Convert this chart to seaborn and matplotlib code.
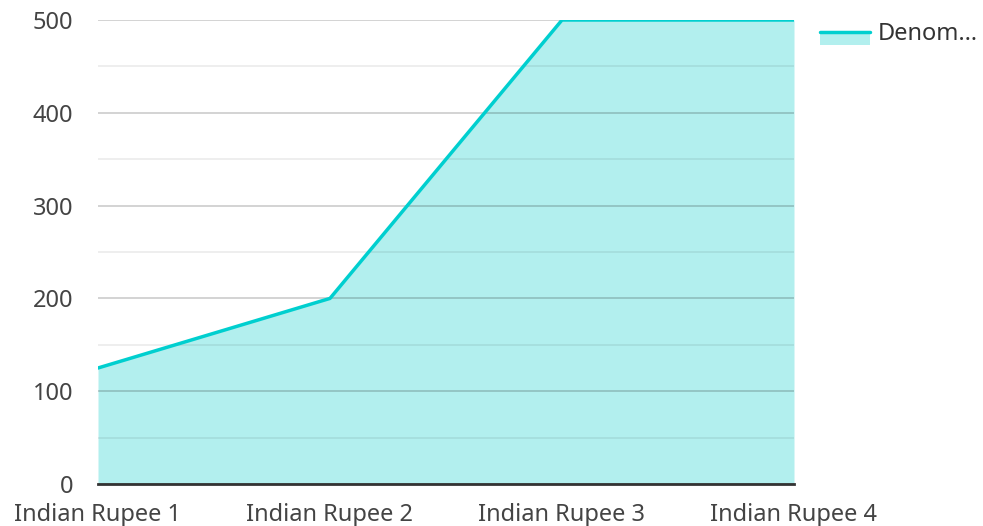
import numpy as np
import pandas as pd
import matplotlib
matplotlib.use("Agg")
import matplotlib.pyplot as plt
import seaborn as sns
from matplotlib.patches import Rectangle
from matplotlib.lines import Line2D
from matplotlib.ticker import MultipleLocator

categories = ["Indian Rupee 1", "Indian Rupee 2", "Indian Rupee 3", "Indian Rupee 4"]
values = [125, 200, 500, 500]
series_name = "Denom…"

sns.set_style("white")
plt.rcParams['font.family'] = ['Noto Sans', 'DejaVu Sans']

line_color = "#00CFCF"
fill_color = "#B2EFEE"


class AreaHandler:
    # line on top with the filled area hanging below it
    def legend_artist(self, legend, orig_handle, fontsize, handlebox):
        x0, y0 = handlebox.xdescent, handlebox.ydescent
        w, h = handlebox.width, handlebox.height
        top = y0 + h * 0.5
        bottom = top - h * 0.8
        rect = Rectangle((x0, bottom), w, top - bottom, facecolor=fill_color,
                         edgecolor="none", transform=handlebox.get_transform())
        line = Line2D([x0, x0 + w], [top, top], color=line_color, lw=2.5,
                      transform=handlebox.get_transform())
        handlebox.add_artist(rect)
        handlebox.add_artist(line)
        return line


df = pd.DataFrame({"x": np.arange(len(categories)), "value": values})

fig = plt.figure(figsize=(9.83, 5.26), dpi=100)
ax = fig.add_axes([98 / 983, 42 / 526, (794 - 98) / 983, (484 - 20) / 526])

ax.fill_between(df["x"], 0, df["value"], color=fill_color, lw=0, zorder=1)
sns.lineplot(data=df, x="x", y="value", color=line_color, lw=2.5, ax=ax, zorder=3)

ax.set_xlim(0, len(categories) - 1)
ax.set_ylim(0, 500)
ax.yaxis.set_major_locator(MultipleLocator(100))
ax.yaxis.set_minor_locator(MultipleLocator(50))
ax.set_xticks(df["x"])
ax.set_xticklabels(categories)
ax.grid(which="major", axis="y", color="#000000", alpha=0.2, lw=1.2, zorder=2)
ax.grid(which="minor", axis="y", color="#000000", alpha=0.08, lw=1.2, zorder=2)
ax.grid(False, axis="x")
ax.set_axisbelow(False)

for s in ["top", "right", "left"]:
    ax.spines[s].set_visible(False)
ax.spines["bottom"].set_color("#333333")
ax.spines["bottom"].set_linewidth(2)
ax.spines["bottom"].set_zorder(4)

ax.tick_params(axis="both", which="both", length=0, labelsize=17, colors="#444444")
ax.tick_params(axis="y", pad=18)
ax.tick_params(axis="x", pad=14)
ax.set_xlabel("")
ax.set_ylabel("")

fig.legend(["area"], [series_name], handler_map={str: AreaHandler()}, loc="upper left",
           bbox_to_anchor=(820 / 983, 1 - 22 / 526), frameon=False, fontsize=17,
           borderpad=0, borderaxespad=0, handlelength=2.1, handletextpad=0.35,
           labelcolor="#333333")

fig.savefig("out.png", dpi=100)
